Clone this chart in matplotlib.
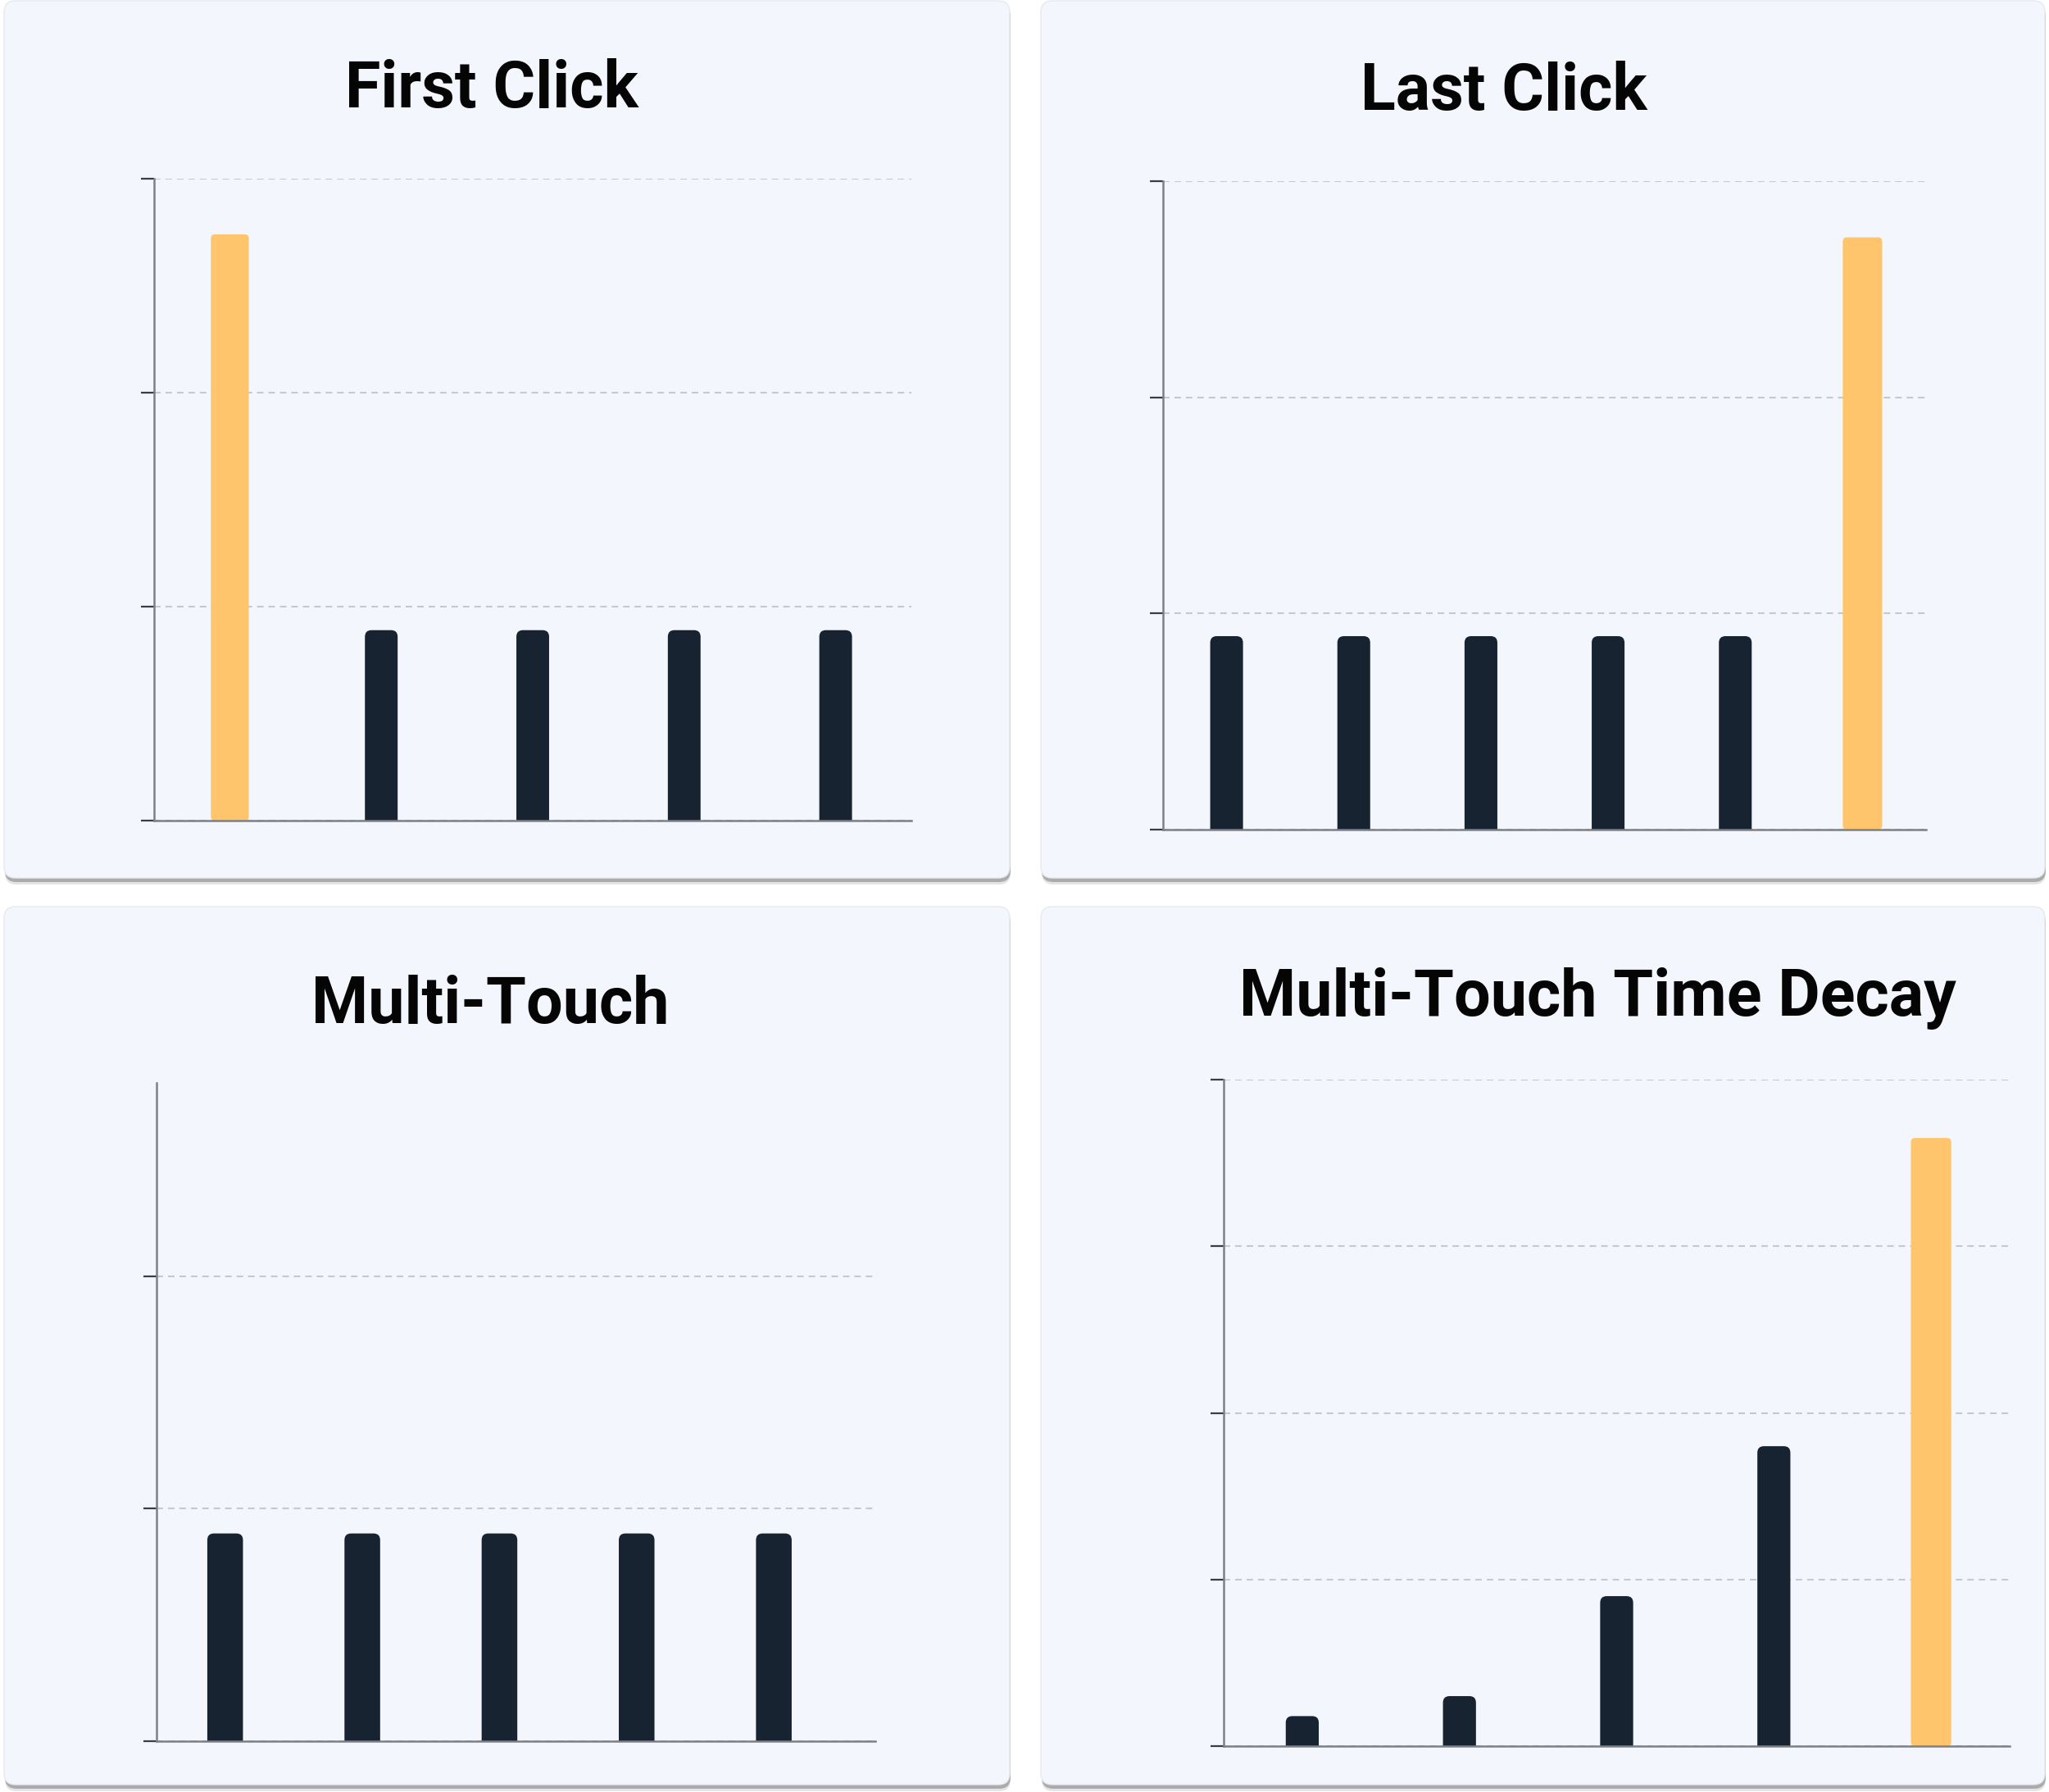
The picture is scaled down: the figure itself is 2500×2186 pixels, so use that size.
import matplotlib.pyplot as plt
from matplotlib.patches import FancyBboxPatch

W, H = 2500, 2186

titles = ["First Click", "Last Click", "Multi-Touch", "Multi-Touch Time Decay"]
first_click = [27.4, 8.9, 8.9, 8.9, 8.9]
last_click = [8.95, 8.95, 8.95, 8.95, 8.95, 27.4]
multi_touch = [8.93, 8.93, 8.93, 8.93, 8.93]
time_decay = [1.8, 3.0, 9.0, 18.0, 36.5]
highlight = [0, 5, None, 4]

DARK = "#172331"
ORANGE = "#ffc56c"
CARD = "#f3f6fd"

# layout in pixels: card box, axes box (left, top, right, bottom), title centre/baseline
cards = [(5, 1, 1232, 1071), (1270, 1, 2495, 1071),
         (5, 1106, 1232, 2177), (1270, 1106, 2495, 2177)]
axes_px = [(188, 218, 1112, 1001), (1419, 221, 2350, 1012),
           (191, 1321, 1068, 2124), (1493, 1317, 2452, 2130)]
title_pos = [(600, 131), (1835, 134), (598, 1248), (1949, 1239)]
ylims = [30, 30, 28.3, 40]
yticks = [[0, 10, 20, 30], [0, 10, 20, 30], [0, 10, 20], [0, 10, 20, 30, 40]]
xright = [0.5, 0.5, 0.74, 0.5]
widths = [(0.216, 0.25), (0.258, 0.31), (0.26, 0.26), (0.21, 0.256)]
series = [first_click, last_click, multi_touch, time_decay]

fig = plt.figure(figsize=(W / 100, H / 100), dpi=100)
fig.patch.set_facecolor("white")

bg = fig.add_axes([0, 0, 1, 1])
bg.set_xlim(0, W)
bg.set_ylim(H, 0)
bg.axis("off")
bg.set_zorder(-1)

for (x0, y0, x1, y1) in cards:
    for dy, c in [(8, "#e4e4e4"), (5, "#ababab")]:
        bg.add_patch(FancyBboxPatch((x0 + 1, y0 + dy), x1 - x0, y1 - y0,
                                    boxstyle="round,pad=0,rounding_size=14",
                                    facecolor=c, edgecolor="none"))
    bg.add_patch(FancyBboxPatch((x0, y0), x1 - x0, y1 - y0,
                                boxstyle="round,pad=0,rounding_size=14",
                                facecolor=CARD, edgecolor="#e6e9ef", linewidth=1))

for i, vals in enumerate(series):
    l, t, r, b = axes_px[i]
    ax = fig.add_axes([l / W, 1 - b / H, (r - l) / W, (b - t) / H])
    ax.set_facecolor("none")
    n = len(vals)
    xs = list(range(n))
    x_lo, x_hi = -0.5, n - 1 + xright[i]
    ax.set_xlim(x_lo, x_hi)
    ax.set_ylim(0, ylims[i])

    cols = [ORANGE if k == highlight[i] else DARK for k in xs]
    ws = [widths[i][1] if k == highlight[i] else widths[i][0] for k in xs]
    bars = ax.bar(xs, vals, width=ws, color=cols, zorder=3)

    # swap the plain rectangles for rounded ones
    xpp = (x_hi - x_lo) / (r - l)
    ypp = ylims[i] / (b - t)
    aspect = ypp / xpp
    for k, rect in enumerate(bars.patches):
        bx, bw, bh = rect.get_x(), rect.get_width(), rect.get_height()
        if k == highlight[i]:
            rad = 5
            y0 = 0
        else:
            rad = 8
            y0 = -rad * ypp
        p = FancyBboxPatch((bx, y0), bw, bh - y0,
                           boxstyle="round,pad=0,rounding_size=%f" % (rad * xpp),
                           mutation_aspect=aspect, facecolor=rect.get_facecolor(),
                           edgecolor="none", zorder=3)
        ax.add_patch(p)
        rect.remove()

    ax.set_yticks(yticks[i])
    ax.set_yticklabels([])
    ax.set_xticks([])
    ax.yaxis.grid(True, color="#c6c8cc", linestyle=(0, (3.8, 2.9)), linewidth=1.5, zorder=0)
    ax.set_axisbelow(True)
    for s in ["top", "right"]:
        ax.spines[s].set_visible(False)
    for s in ["left", "bottom"]:
        ax.spines[s].set_color("#7d8086")
        ax.spines[s].set_linewidth(1.8)
        ax.spines[s].set_zorder(4)
    ax.tick_params(axis="y", length=11.5, width=1.6, color="#3a3d42")

    tx, ty = title_pos[i]
    bg.text(tx, ty, titles[i], ha="center", va="baseline", fontsize=57,
            fontweight="bold", family=["Roboto", "DejaVu Sans"], color="#050505")

fig.savefig("out.png", dpi=100, facecolor="white")
